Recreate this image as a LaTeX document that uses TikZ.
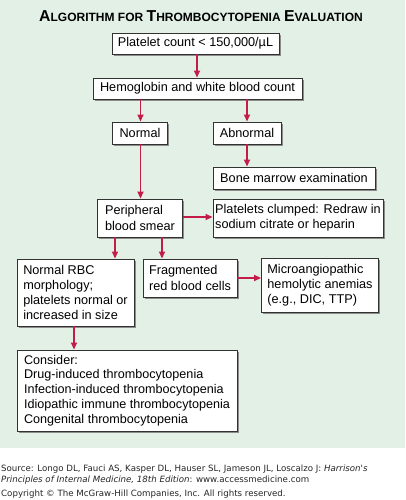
\documentclass[tikz,border=0pt]{standalone}
\usepackage{fontspec}
\setmainfont{Liberation Sans}
\newfontfamily\srcfont{DejaVu Sans}
\usetikzlibrary{arrows.meta,shadows,calc}
\definecolor{bggreen}{RGB}{226,240,230}
\definecolor{arrowred}{RGB}{196,28,72}
\definecolor{boxline}{RGB}{50,50,50}
\tikzset{
  box/.style={draw=boxline, line width=0.9pt, fill=white, inner sep=0pt,
    font=\fontsize{12.7}{15.2}\selectfont,
    drop shadow={shadow xshift=1.8pt, shadow yshift=-1.8pt, fill=black!45, opacity=1}},
  flow/.style={draw=arrowred, line width=1.6pt, -{Triangle[length=7pt,width=6pt]}},
  src/.style={anchor=base west, inner sep=0pt, font=\srcfont\fontsize{8.65}{10}\selectfont, text=black!85}
}
\begin{document}
\begin{tikzpicture}[x=1pt,y=-1pt]
\useasboundingbox (0,0) rectangle (405,500);
\fill[white] (0,0) rectangle (405,500);
\fill[bggreen] (0,0) rectangle (405,448);

% title
\node[inner sep=0pt, anchor=base] (title) at (201,21.3) {\bfseries
  {\fontsize{15.8}{16}\selectfont A}{\fontsize{12}{16}\selectfont LGORITHM FOR }%
  {\fontsize{15.8}{16}\selectfont T}{\fontsize{12}{16}\selectfont HROMBOCYTOPENIA }%
  {\fontsize{15.8}{16}\selectfont E}{\fontsize{12}{16}\selectfont VALUATION}};

% boxes
\node[box, minimum width=167pt, minimum height=21pt] (plt) at (195.5,43.5) {Platelet count < 150,000/µL};
\node[box, minimum width=209pt, minimum height=21pt] (hgb) at (197.5,88.5) {Hemoglobin and white blood count};
\node[box, minimum width=55pt, minimum height=22pt] (normal) at (140,133) {Normal};
\node[box, minimum width=68pt, minimum height=22pt] (abn) at (247,133) {Abnormal};
\node[box, minimum width=162pt, minimum height=22pt] (bone) at (294,178) {Bone marrow examination};
\node[box, minimum width=85pt, minimum height=38pt, align=left] (periph) at (140,218) {Peripheral\\blood smear};
\node[box, minimum width=170pt, minimum height=38pt, align=left] (clump) at (298,218) {Platelets clumped: Redraw in\\sodium citrate or heparin};
\node[box, minimum width=117pt, minimum height=67pt, align=left] (nrbc) at (75.5,292.5) {Normal RBC\\morphology;\\platelets normal or\\increased in size};
\node[box, minimum width=94pt, minimum height=38pt, align=left] (frag) at (190,278) {Fragmented\\red blood cells};
\node[box, minimum width=117pt, minimum height=54pt, align=left] (micro) at (320,285.5) {Microangiopathic\\hemolytic anemias\\(e.g., DIC, TTP)};
\node[box, minimum width=220pt, minimum height=81pt, align=left,
  font=\fontsize{12.6}{14.8}\selectfont] (consider) at (127,390.5) {Consider:\\Drug-induced thrombocytopenia\\Infection-induced thrombocytopenia\\Idiopathic immune thrombocytopenia\\Congenital thrombocytopenia};

% connectors
\draw[flow] ([xshift=1.5pt]plt.south) -- ([xshift=1.5pt]plt.south |- hgb.north);
\draw[flow] ([xshift=0.5pt]normal.north |- hgb.south) -- ([xshift=0.5pt]normal.north);
\draw[flow] (abn.north |- hgb.south) -- (abn.north);
\draw[flow] (abn.south) -- (abn.south |- bone.north);
\draw[flow] ([xshift=0.5pt]normal.south) -- ([xshift=0.5pt]periph.north);
\draw[flow] ([yshift=1pt]periph.east) -- ([yshift=1pt]periph.east -| clump.west);
\draw[flow] ([xshift=-25pt]periph.south) -- ([xshift=-25pt]periph.south |- nrbc.north);
\draw[flow] ([xshift=22pt]periph.south) -- ([xshift=22pt]periph.south |- frag.north);
\draw[flow] (frag.east) -- (frag.east -| micro.west);
\draw[flow] ([xshift=-1.5pt]nrbc.south) -- ([xshift=-1.5pt]nrbc.south |- consider.north);

% source
\node[src] (s1) at (1,471.5) {Source: Longo DL, Fauci AS, Kasper DL, Hauser SL, Jameson JL, Loscalzo J: \textit{Harrison's}};
\node[src] (s2) at (1,482.5) {\textit{Principles of Internal Medicine, 18th Edition}: www.accessmedicine.com};
\node[src] (s3) at (1,496.5) {Copyright © The McGraw-Hill Companies, Inc. All rights reserved.};
\end{tikzpicture}
\end{document}
